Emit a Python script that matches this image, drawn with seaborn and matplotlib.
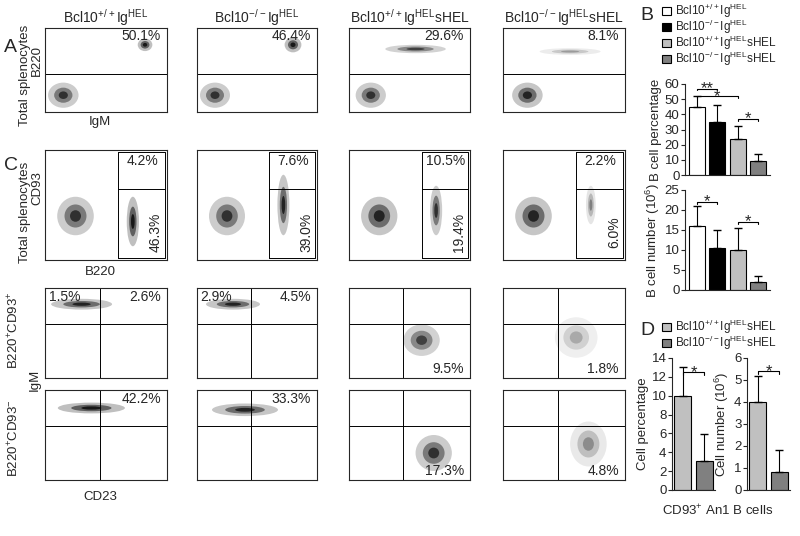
import matplotlib
matplotlib.use("Agg")
import matplotlib.pyplot as plt
from matplotlib.patches import Ellipse, Rectangle
import seaborn as sns
import pandas as pd

sns.set_style("ticks")
plt.rcParams["font.family"] = "Liberation Sans"
plt.rcParams["mathtext.default"] = "regular"

groups = ["Bcl10$^{+/+}$Ig$^{HEL}$", "Bcl10$^{-/-}$Ig$^{HEL}$",
          "Bcl10$^{+/+}$Ig$^{HEL}$sHEL", "Bcl10$^{-/-}$Ig$^{HEL}$sHEL"]
colors = ["white", "black", "#c0c0c0", "#808080"]
pct_b = [45, 35, 24, 9]
pct_b_err = [7, 11, 8, 5]
num_b = [16, 10.5, 10, 2]
num_b_err = [5, 4.5, 5.5, 1.5]
d_groups = ["Bcl10$^{+/+}$Ig$^{HEL}$sHEL", "Bcl10$^{-/-}$Ig$^{HEL}$sHEL"]
d_pct = [10, 3.1]
d_pct_err = [3, 2.8]
d_num = [4.0, 0.8]
d_num_err = [1.2, 1.0]

row_a_labels = ["50.1%", "46.4%", "29.6%", "8.1%"]
row_c1_top = ["4.2%", "7.6%", "10.5%", "2.2%"]
row_c1_side = ["46.3%", "39.0%", "19.4%", "6.0%"]
row_c2_ul = ["1.5%", "2.9%", "", ""]
row_c2_ur = ["2.6%", "4.5%", "", ""]
row_c2_lr = ["", "", "9.5%", "1.8%"]
row_c3_ur = ["42.2%", "33.3%", "", ""]
row_c3_lr = ["", "", "17.3%", "4.8%"]
# population clusters (x, y, width, height, density) per panel, 0-1 units
pops_a = [[(0.15, 0.2, 0.25, 0.3, 0.8), (0.82, 0.8, 0.12, 0.15, 1)],
          [(0.15, 0.2, 0.25, 0.3, 0.8), (0.8, 0.8, 0.14, 0.18, 1)],
          [(0.18, 0.2, 0.25, 0.3, 0.8), (0.55, 0.75, 0.5, 0.1, 0.7)],
          [(0.2, 0.2, 0.25, 0.3, 0.9), (0.55, 0.72, 0.5, 0.08, 0.3)]]
pops_c1 = [[(0.25, 0.4, 0.3, 0.35, 0.8), (0.72, 0.35, 0.1, 0.45, 1)],
           [(0.25, 0.4, 0.3, 0.35, 0.8), (0.72, 0.5, 0.1, 0.55, 0.9)],
           [(0.25, 0.4, 0.3, 0.35, 0.9), (0.72, 0.45, 0.1, 0.45, 0.8)],
           [(0.25, 0.4, 0.3, 0.35, 0.9), (0.72, 0.5, 0.08, 0.35, 0.4)]]
pops_c2 = [[(0.3, 0.82, 0.5, 0.12, 0.9)], [(0.3, 0.82, 0.45, 0.12, 0.9)],
           [(0.6, 0.42, 0.3, 0.35, 0.7)], [(0.6, 0.45, 0.35, 0.45, 0.25)]]
pops_c3 = [[(0.38, 0.8, 0.55, 0.12, 1)], [(0.4, 0.78, 0.55, 0.14, 0.9)],
           [(0.7, 0.3, 0.3, 0.4, 0.8)], [(0.7, 0.4, 0.3, 0.5, 0.35)]]

W, H = 800, 536
FS = 9.5
fig = plt.figure(figsize=(8, 5.36), dpi=100)


def ax_px(x0, y0, x1, y1):
    return fig.add_axes([x0 / W, 1 - y1 / H, (x1 - x0) / W, (y1 - y0) / H])


def flow(ax, pops):
    ax.set_xlim(0, 1)
    ax.set_ylim(0, 1)
    ax.set_xticks([])
    ax.set_yticks([])
    for x, y, w, h, d in pops:
        for k, s in enumerate([1.0, 0.6, 0.3]):
            ax.add_patch(Ellipse((x, y), w * s, h * s, color="black",
                                 alpha=min(1, 0.25 * d * (k + 1)), lw=0))
    for sp in ax.spines.values():
        sp.set_linewidth(0.8)


xs = [(45, 167), (197, 317), (349, 470), (503, 625)]
for i, (x0, x1) in enumerate(xs):
    ax = ax_px(x0, 28, x1, 112)
    flow(ax, pops_a[i])
    ax.axhline(0.45, color="black", lw=0.7)
    ax.text(0.95, 0.9, row_a_labels[i], ha="right", va="center", fontsize=FS + 0.5)
    ax.set_title(groups[i], fontsize=FS + 0.5, pad=4)

    ax = ax_px(x0, 150, x1, 260)
    flow(ax, pops_c1[i])
    ax.plot([0.6, 0.6], [0.02, 0.98], color="black", lw=0.7)
    ax.plot([0.6, 0.98, 0.98, 0.6], [0.98, 0.98, 0.02, 0.02], color="black", lw=0.7)
    ax.plot([0.6, 0.98], [0.65, 0.65], color="black", lw=0.7)
    ax.text(0.8, 0.9, row_c1_top[i], ha="center", va="center", fontsize=FS + 0.5)
    ax.text(0.91, 0.25, row_c1_side[i], rotation=90, ha="center", va="center",
            fontsize=FS + 0.5)

    ax = ax_px(x0, 288, x1, 378)
    flow(ax, pops_c2[i])
    ax.axvline(0.45, color="black", lw=0.7)
    ax.axhline(0.6, color="black", lw=0.7)
    ax.text(0.03, 0.9, row_c2_ul[i], ha="left", va="center", fontsize=FS + 0.5)
    ax.text(0.95, 0.9, row_c2_ur[i], ha="right", va="center", fontsize=FS + 0.5)
    ax.text(0.95, 0.1, row_c2_lr[i], ha="right", va="center", fontsize=FS + 0.5)

    ax = ax_px(x0, 390, x1, 480)
    flow(ax, pops_c3[i])
    ax.axvline(0.45, color="black", lw=0.7)
    ax.axhline(0.6, color="black", lw=0.7)
    ax.text(0.95, 0.9, row_c3_ur[i], ha="right", va="center", fontsize=FS + 0.5)
    ax.text(0.95, 0.1, row_c3_lr[i], ha="right", va="center", fontsize=FS + 0.5)

fig.text(4 / W, 1 - 52 / H, "A", fontsize=14)
fig.text(4 / W, 1 - 170 / H, "C", fontsize=14)
fig.text(640 / W, 1 - 20 / H, "B", fontsize=14)
fig.text(640 / W, 1 - 335 / H, "D", fontsize=14)
fig.text(25 / W, 1 - 75 / H, "Total splenocytes", rotation=90, va="center", ha="center", fontsize=FS)
fig.text(37 / W, 1 - 60 / H, "B220", rotation=90, va="center", ha="center", fontsize=FS)
fig.text(100 / W, 1 - 125 / H, "IgM", ha="center", fontsize=FS)
fig.text(25 / W, 1 - 212 / H, "Total splenocytes", rotation=90, va="center", ha="center", fontsize=FS)
fig.text(37 / W, 1 - 188 / H, "CD93", rotation=90, va="center", ha="center", fontsize=FS)
fig.text(100 / W, 1 - 275 / H, "B220", ha="center", fontsize=FS)
fig.text(14 / W, 1 - 330 / H, "B220$^{+}$CD93$^{+}$", rotation=90, va="center", ha="center", fontsize=FS)
fig.text(14 / W, 1 - 438 / H, "B220$^{+}$CD93$^{-}$", rotation=90, va="center", ha="center", fontsize=FS)
fig.text(35 / W, 1 - 380 / H, "IgM", rotation=90, va="center", ha="center", fontsize=FS)
fig.text(100 / W, 1 - 500 / H, "CD23", ha="center", fontsize=FS)


def bars(ax, labels, vals, errs, cols, ymax, step, ylabel, sigs):
    df = pd.DataFrame({"g": labels, "v": vals})
    sns.barplot(data=df, x="g", y="v", hue="g", palette=cols, ax=ax,
                edgecolor="black", linewidth=0.8, width=0.8, legend=False)
    ax.errorbar(range(len(vals)), vals, yerr=[[0] * len(vals), errs], fmt="none",
                ecolor="black", elinewidth=0.8, capsize=3)
    ax.set_ylim(0, ymax)
    ax.set_yticks(range(0, ymax + 1, step))
    ax.set_xticks([])
    ax.set_xlabel("")
    ax.set_ylabel(ylabel, fontsize=FS, labelpad=2)
    ax.tick_params(labelsize=FS, pad=1, length=3)
    sns.despine(ax=ax)
    for a, b, y, s in sigs:
        ax.plot([a, a, b, b], [y - ymax * 0.02, y, y, y - ymax * 0.02], color="black", lw=0.8)
        ax.text((a + b) / 2, y, s, ha="center", va="center", fontsize=12)


ax = ax_px(685, 84, 770, 175)
bars(ax, groups, pct_b, pct_b_err, colors, 60, 10, "B cell percentage",
     [(0, 1, 57, "**"), (0, 2, 52, "*"), (2, 3, 37, "*")])
ax = ax_px(685, 190, 770, 290)
bars(ax, groups, num_b, num_b_err, colors, 25, 5, "B cell number (10$^6$)",
     [(0, 1, 22, "*"), (2, 3, 17, "*")])
for i, g in enumerate(groups):
    fig.legend(handles=[Rectangle((0, 0), 1, 1, fc=colors[i], ec="black", lw=0.8)],
               labels=[g], loc="upper left", bbox_to_anchor=(662 / W, 1 - (2 + 16 * i) / H),
               frameon=False, fontsize=FS - 1, handlelength=0.8, handletextpad=0.3,
               borderpad=0, borderaxespad=0)

ax = ax_px(672, 358, 715, 490)
bars(ax, d_groups, d_pct, d_pct_err, colors[2:], 14, 2, "Cell percentage",
     [(0, 1, 12.5, "*")])
ax = ax_px(747, 358, 790, 490)
bars(ax, d_groups, d_num, d_num_err, colors[2:], 6, 1, "Cell number (10$^6$)",
     [(0, 1, 5.4, "*")])
for i, g in enumerate(d_groups):
    fig.legend(handles=[Rectangle((0, 0), 1, 1, fc=colors[2 + i], ec="black", lw=0.8)],
               labels=[g], loc="upper left", bbox_to_anchor=(662 / W, 1 - (318 + 16 * i) / H),
               frameon=False, fontsize=FS - 1, handlelength=0.8, handletextpad=0.3,
               borderpad=0, borderaxespad=0)
fig.text(718 / W, 1 - 515 / H, "CD93$^{+}$ An1 B cells", ha="center", fontsize=FS)

fig.savefig("out.png", dpi=100)
